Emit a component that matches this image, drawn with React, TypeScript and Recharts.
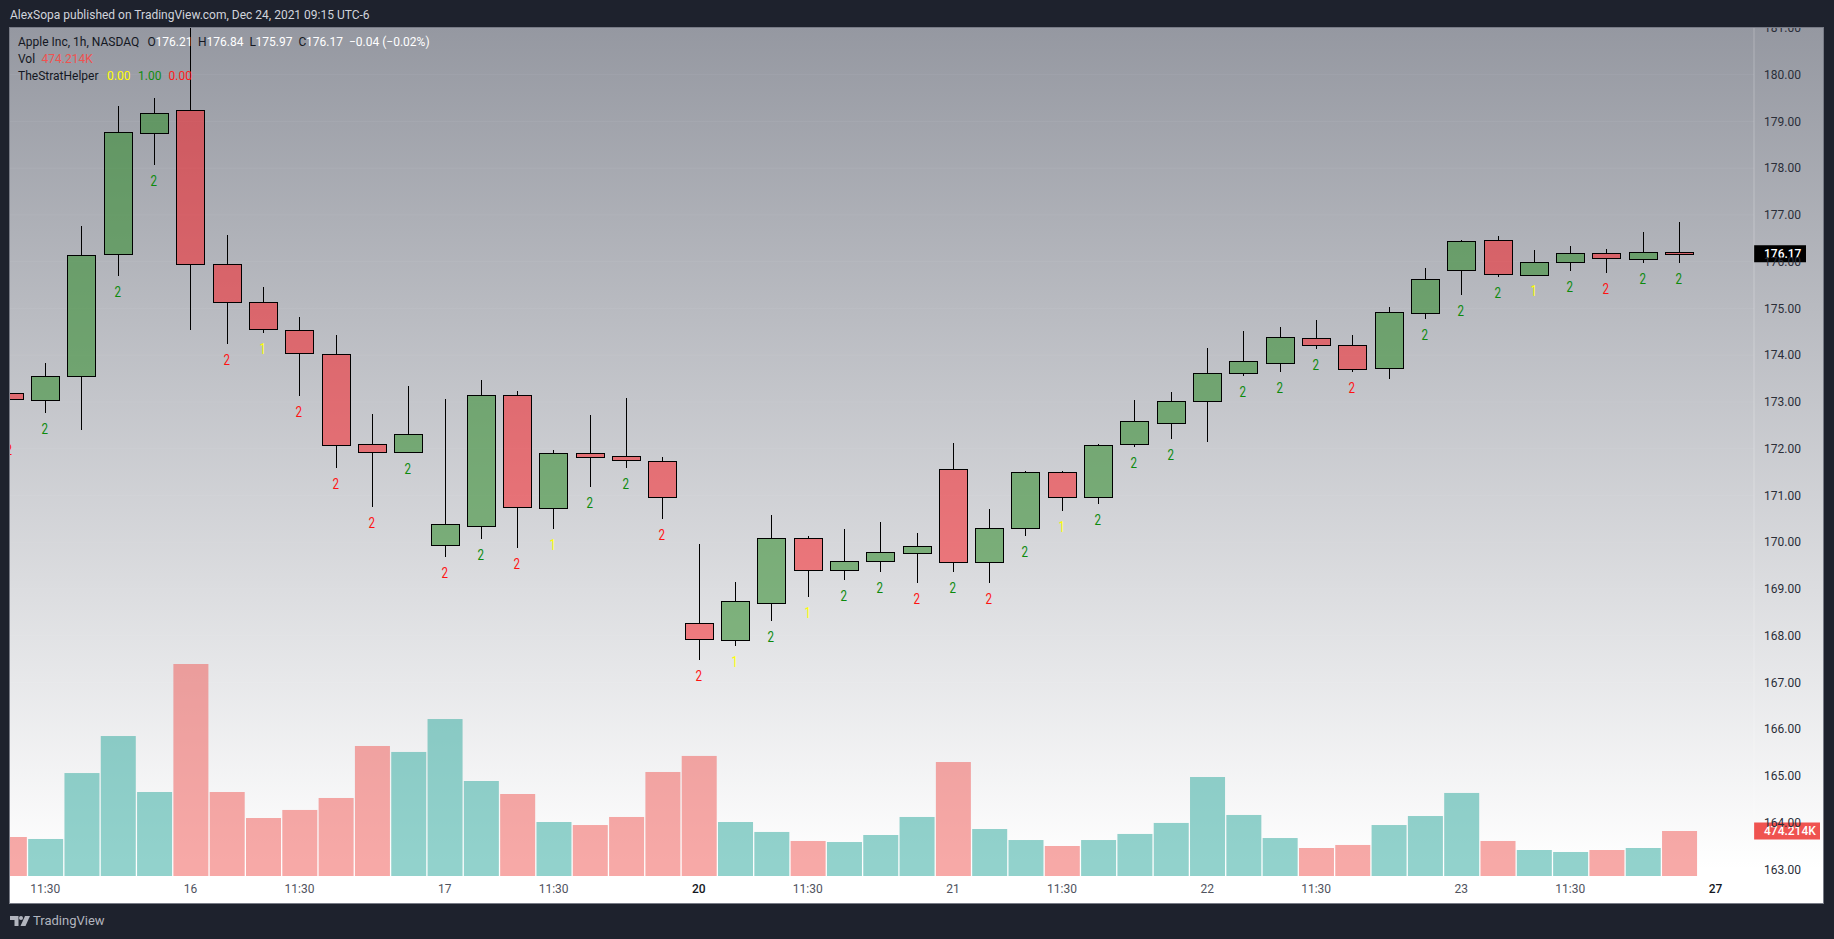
import React from "react";
import { ComposedChart, Bar, XAxis, YAxis, CartesianGrid, ReferenceLine } from "recharts";

const opens = [173.19,173.04,173.55,176.16,178.75,179.24,175.94,175.13,174.53,174.02,172.09,171.94,169.93,170.34,173.14,170.73,171.90,171.84,171.73,168.27,167.90,168.71,170.10,169.40,169.59,169.76,171.56,169.57,170.30,171.50,170.96,172.09,172.56,173.01,173.61,173.83,174.36,174.21,173.72,174.90,175.82,176.46,175.71,175.99,176.18,176.05,176.21];
const highs = [173.26,173.83,176.76,179.33,179.50,181.30,176.57,175.46,174.82,174.43,172.74,173.34,173.06,173.47,173.23,171.97,172.72,173.08,171.82,169.96,169.15,170.58,170.13,170.28,170.43,170.20,172.12,170.70,171.52,171.52,172.10,173.04,173.21,174.15,174.52,174.60,174.75,174.43,175.03,175.87,176.46,176.55,176.25,176.34,176.27,176.63,176.84];
const lows = [172.31,172.77,172.41,175.69,178.07,174.54,174.24,174.48,173.13,171.59,170.76,171.91,169.69,170.07,169.88,170.29,171.17,171.59,170.50,167.49,167.77,168.32,168.83,169.20,169.37,169.13,169.37,169.13,170.14,170.67,170.82,172.04,172.21,172.15,173.56,173.63,174.14,173.65,173.50,174.78,175.29,175.68,175.71,175.81,175.76,175.98,175.97];
const closes = [173.06,173.55,176.14,178.77,179.17,175.94,175.14,174.55,174.04,172.07,171.94,172.31,170.38,173.14,170.75,171.90,171.83,171.75,170.96,167.94,168.74,170.10,169.40,169.59,169.78,169.91,169.57,170.30,171.50,170.96,172.07,172.59,173.01,173.61,173.87,174.38,174.21,173.70,174.92,175.62,176.44,175.73,175.99,176.18,176.07,176.20,176.17];
const volumes = [411,390,1085,1475,885,2234,885,611,696,822,1370,1307,1654,1001,864,569,537,622,1096,1265,569,464,369,358,432,622,1201,495,379,316,379,443,559,1043,643,400,295,327,537,632,875,369,274,253,274,295,474.214];
// TheStrat labels: "r2" red 2, "g2" green 2, "y1" yellow 1, "" none
const strat = ["r2","g2","","g2","g2","","r2","y1","r2","r2","r2","g2","r2","g2","r2","y1","g2","g2","r2","r2","y1","g2","y1","g2","g2","r2","g2","r2","g2","y1","g2","g2","g2","","g2","g2","g2","r2","","g2","g2","g2","y1","g2","r2","g2","g2"];
const volumeUp = [0,1,1,1,1,0,0,0,0,0,0,1,1,1,0,1,0,0,0,0,1,1,0,1,1,1,0,1,1,0,1,1,1,1,1,1,0,0,1,1,1,0,1,1,0,1,0];
const timeTicks = [1,5,8,12,15,19,22,26,29,33,36,40,43,47];
const timeLabels = ["11:30","16","11:30","17","11:30","20","11:30","21","11:30","22","11:30","23","11:30","27"];
const boldLabels = ["20","27"];
const priceTicks = [163,164,165,166,167,168,169,170,171,172,173,174,175,176,177,178,179,180,181];
const lastClose = 176.17;
const lastVolume = 474.214;

const data = opens.map((o, i) => ({
  idx: i, open: o, high: highs[i], low: lows[i], close: closes[i],
  volume: volumes[i], strat: strat[i], up: volumeUp[i] === 1,
}));

const FONT = "Roboto, sans-serif";
const stratColor: Record<string, string> = { r: "#ff1212", g: "#0c8a0c", y: "#ffff00" };

function Candle(props: any) {
  const { x, y, width, height, payload } = props;
  const k = height / (payload.high - payload.low);
  const up = payload.close >= payload.open;
  const top = y + (payload.high - Math.max(payload.open, payload.close)) * k;
  const bot = y + (payload.high - Math.min(payload.open, payload.close)) * k;
  const cx = Math.round(x + width / 2) + 0.5;
  const rTop = Math.round(top) + 0.5;
  const rBot = Math.round(bot) + 0.5;
  const label = payload.strat as string;
  return (
    <g>
      <line x1={cx} x2={cx} y1={y} y2={rTop} stroke="#000" strokeWidth={1} shapeRendering="crispEdges" />
      <line x1={cx} x2={cx} y1={rBot} y2={y + height} stroke="#000" strokeWidth={1} shapeRendering="crispEdges" />
      <rect x={cx - 14} y={rTop} width={28} height={Math.max(rBot - rTop, 1)}
        fill={up ? "rgba(51,140,46,0.57)" : "rgba(252,18,24,0.5)"} stroke="#000" strokeWidth={1} shapeRendering="crispEdges" />
      {label ? (
        <text x={cx - 4} y={y + height + 16} dominantBaseline="central" textLength={6.5} lengthAdjust="spacingAndGlyphs"
          fill={stratColor[label[0]]} fontFamily={FONT} fontSize={15}>{label[1]}</text>
      ) : null}
    </g>
  );
}

function VolumeBar(props: any) {
  const { x, y, width, height, payload } = props;
  return <rect x={x} y={y} width={width} height={height} fill={payload.up ? "rgba(38,166,154,0.5)" : "rgba(239,83,80,0.5)"} />;
}

function TimeTick(props: any) {
  const { x, y, payload } = props;
  const i = timeTicks.indexOf(payload.value);
  const label = timeLabels[i];
  const isBold = boldLabels.includes(label);
  return (
    <text x={x} y={y} textAnchor="middle" dominantBaseline="central" fontFamily={FONT} fontSize={12}
      fill={isBold ? "#131722" : "#50535e"} fontWeight={isBold ? 500 : 400}>{label}</text>
  );
}

function Tag(props: any) {
  const { viewBox, text, color, w } = props;
  const left = viewBox.x + viewBox.width;
  const cy = viewBox.y;
  return (
    <g>
      <rect x={left} y={cy - 8.5} width={w} height={17} fill={color} />
      <text x={left + 10} y={cy} dominantBaseline="central" fill="#fff" fontFamily={FONT} fontSize={12} fontWeight={500}>{text}</text>
    </g>
  );
}

const at = (left: number, top: number, color: string, text: string, size = 12) => (
  <div style={{ position: "absolute", left, top: top - 8, height: 16, lineHeight: "16px", color, fontSize: size, fontFamily: FONT, whiteSpace: "nowrap" }}>{text}</div>
);

export default function App() {
  return (
    <div style={{ position: "absolute", left: 0, top: 0, width: 1834, height: 939, background: "#1e222d", overflow: "hidden" }}>
      {at(10, 15, "#d1d4dc", "AlexSopa published on TradingView.com, Dec 24, 2021 09:15 UTC-6", 12)}
      <div style={{ position: "absolute", left: 9, top: 27, width: 1815, height: 877, background: "linear-gradient(180deg,#9598a1 0%,#ffffff 96%)" }} />
      <div style={{ position: "absolute", left: 9, top: 27 }}>
        <ComposedChart width={1814} height={876} data={data} margin={{ top: 0, right: 0, bottom: 0, left: 0 }}>
          <CartesianGrid xAxisId="p" yAxisId="p" vertical={false} stroke="rgba(255,255,255,0.06)" />
          <XAxis xAxisId="p" dataKey="idx" type="number" domain={[0, 48.06]} allowDataOverflow hide height={0} ticks={timeTicks} />
          <XAxis xAxisId="v" dataKey="idx" type="number" domain={[0, 48.06]} allowDataOverflow height={27}
            ticks={timeTicks} interval={0} tick={<TimeTick />} axisLine={false} tickLine={false} tickSize={0} tickMargin={13} />
          <YAxis yAxisId="p" orientation="right" width={69} type="number" domain={[162.86, 181.02]} allowDataOverflow
            ticks={priceTicks} interval={0} tickFormatter={(v: number) => v.toFixed(2)}
            tick={{ fill: "#2a2e39", fontSize: 12, fontFamily: FONT }} tickLine={false} tickSize={0} tickMargin={10}
            axisLine={{ stroke: "rgba(255,255,255,0.25)" }} />
          <YAxis yAxisId="v" hide type="number" domain={[0, 8946.7]} allowDataOverflow />
          <Bar xAxisId="v" yAxisId="v" dataKey="volume" barSize={35} shape={<VolumeBar />} isAnimationActive={false} />
          <Bar xAxisId="p" yAxisId="p" dataKey={(d: any) => [d.low, d.high]} barSize={28} shape={<Candle />} isAnimationActive={false} />
          <ReferenceLine xAxisId="p" yAxisId="p" y={lastClose} stroke="transparent" ifOverflow="visible"
            label={<Tag text={lastClose.toFixed(2)} color="#000000" w={52} />} />
          <ReferenceLine xAxisId="v" yAxisId="v" y={lastVolume} stroke="transparent" ifOverflow="visible"
            label={<Tag text="474.214K" color="#ef5350" w={66} />} />
        </ComposedChart>
      </div>
      <div style={{ position: "absolute", left: 9, top: 27, width: 1815, height: 877, boxSizing: "border-box", border: "1px solid #787b86", pointerEvents: "none" }} />
      {at(18, 42, "#131722", "Apple Inc, 1h, NASDAQ")}
      {at(147.5, 42, "#131722", "O")}{at(155.5, 42, "#ffffff", "176.21")}
      {at(198, 42, "#131722", "H")}{at(206.5, 42, "#ffffff", "176.84")}
      {at(249.5, 42, "#131722", "L")}{at(255.5, 42, "#ffffff", "175.97")}
      {at(298.5, 42, "#131722", "C")}{at(306, 42, "#ffffff", "176.17")}
      {at(349, 42, "#ffffff", "−0.04 (−0.02%)")}
      {at(18, 59, "#131722", "Vol")}{at(41.5, 59, "#ef5350", "474.214K")}
      {at(18, 76, "#131722", "TheStratHelper")}
      {at(107, 76, "#ffff00", "0.00")}{at(138, 76, "#108c10", "1.00")}{at(168.5, 76, "#ff1a1a", "0.00")}
      <svg style={{ position: "absolute", left: 10, top: 916 }} width={20} height={10} viewBox="0 0 20 10">
        <path d="M0 0H8.5V10H4.5V4H0Z" fill="#b2b5be" />
        <circle cx="11" cy="2" r="2" fill="#b2b5be" />
        <path d="M15 0H20L15.5 10H10.5Z" fill="#b2b5be" />
      </svg>
      {at(33, 921, "#b2b5be", "TradingView", 13)}
    </div>
  );
}
